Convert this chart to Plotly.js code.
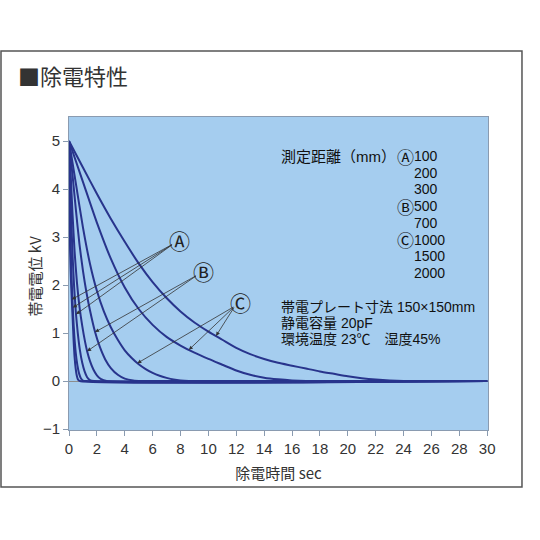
<!DOCTYPE html>
<html>
<head>
<meta charset="utf-8">
<script src="https://cdn.plot.ly/plotly-3.0.1.min.js"></script>
<style>
  html, body { margin: 0; padding: 0; background: #fff; }
  #chart { width: 540px; height: 540px; }
</style>
</head>
<body>
<div id="chart"></div>
<script>
// 測定距離 (mm)
const distances = ['100', '200', '300', '500', '700', '1000', '1500', '2000'];
const groupMarks = ['Ⓐ', '', '', 'Ⓑ', '', 'Ⓒ', '', ''];

// 除電時間 sec / 帯電電位 kV
const time100 = [0, 0.04, 0.08, 0.14, 0.2, 0.27, 0.33, 0.4, 0.48, 0.56, 0.65, 0.78, 30];
const volt100 = [4.2, 3.4, 2.7, 2.1, 1.7, 1.25, 0.85, 0.5, 0.26, 0.11, 0.03, 0, 0];

const time200 = [0, 0.05, 0.1, 0.16, 0.23, 0.3, 0.38, 0.48, 0.6, 0.72, 0.85, 1.0, 1.2, 30];
const volt200 = [4.7, 3.9, 3.1, 2.4, 1.8, 1.35, 0.95, 0.6, 0.33, 0.16, 0.06, 0.01, 0, 0];

const time300 = [0, 0.08, 0.16, 0.26, 0.37, 0.5, 0.63, 0.78, 0.95, 1.12, 1.3, 1.5, 1.8, 30];
const volt300 = [5, 4.2, 3.4, 2.6, 1.95, 1.4, 1.0, 0.65, 0.38, 0.2, 0.08, 0.02, 0, 0];

const time500 = [0, 0.12, 0.25, 0.4, 0.57, 0.75, 0.95, 1.15, 1.3, 1.5, 1.75, 2.0, 2.3, 2.7, 30];
const volt500 = [5, 4.3, 3.5, 2.7, 2.05, 1.55, 1.15, 0.82, 0.62, 0.42, 0.24, 0.12, 0.04, 0, 0];

const time700 = [0, 0.25, 0.5, 0.75, 1.0, 1.25, 1.5, 1.87, 2.2, 2.6, 3.0, 3.5, 4.0, 4.6, 5.2, 30];
const volt700 = [5, 4.3, 3.55, 2.85, 2.3, 1.85, 1.48, 1.02, 0.72, 0.45, 0.27, 0.13, 0.05, 0.01, 0, 0];

const time1000 = [0, 0.5, 1, 1.5, 2, 2.5, 3, 3.5, 4, 4.5, 5, 5.5, 6, 6.5, 7, 7.5, 8, 8.6, 30];
const volt1000 = [5, 4.1, 3.2, 2.45, 1.88, 1.45, 1.12, 0.86, 0.64, 0.48, 0.35, 0.25, 0.17, 0.11, 0.065, 0.03, 0.01, 0, 0];

const time1500 = [0, 1, 2, 3, 4, 5, 6, 7, 8, 9, 10, 11, 12, 13, 14, 15, 16, 17, 30];
const volt1500 = [5, 4.15, 3.3, 2.55, 1.95, 1.5, 1.17, 0.92, 0.74, 0.59, 0.46, 0.34, 0.22, 0.13, 0.07, 0.035, 0.012, 0, 0];

const time2000 = [0, 1, 2, 3, 4, 5, 6, 7, 8, 9, 10, 11, 12, 13, 14, 15, 16, 17, 18, 19, 20, 21, 22, 23, 24, 30];
const volt2000 = [5, 4.45, 3.9, 3.38, 2.9, 2.45, 2.06, 1.73, 1.45, 1.22, 1.03, 0.86, 0.69, 0.56, 0.46, 0.38, 0.32, 0.26, 0.2, 0.15, 0.1, 0.06, 0.03, 0.01, 0, 0];

const curveTimes = [time100, time200, time300, time500, time700, time1000, time1500, time2000];
const curveVolts = [volt100, volt200, volt300, volt500, volt700, volt1000, volt1500, volt2000];

const conditions = ['帯電プレート寸法 150×150mm', '静電容量 20pF', '環境温度 23℃　湿度45%'];

const lineColor = '#28348c';
const textColor = '#333333';
const numFont = 'Liberation Sans, Arial, Noto Sans CJK JP, sans-serif';
const jpFont = 'Noto Sans CJK JP, sans-serif';

const config = {
  responsive: false,
  displayModeBar: false,
  staticPlot: true,
};

// pixel -> data helpers (plot area: x 69..488, y 117..430)
const pxToX = (px) => (px - 69) / 13.94;
const pyToY = (py) => (381 - py) / 48;

function getTraces() {
  return curveTimes.map((times, idx) => ({
    x: times,
    y: curveVolts[idx],
    name: `${distances[idx]} mm`,
    mode: 'lines',
    line: { color: lineColor, width: 2, shape: 'spline', smoothing: 0.6 },
    hoverinfo: 'skip',
  }));
};

function arrow(tip, tail) {
  return {
    x: tip[0], y: tip[1], ax: tail[0], ay: tail[1],
    xref: 'x', yref: 'y', axref: 'x', ayref: 'y',
    text: '', showarrow: true,
    arrowhead: 2, arrowsize: 1, arrowwidth: 0.8, arrowcolor: '#333',
  };
};

function getAnnotations() {
  const notes = [];

  // y axis title, placed by hand to sit close to the tick labels
  notes.push({
    x: (21 - 69) / 419, y: (430 - 276) / 313, xref: 'paper', yref: 'paper',
    text: '帯電電位 kV', textangle: -90, showarrow: false,
    font: { family: jpFont, size: 15, color: textColor },
  });

  // circled group labels and their arrows
  const tailA = [7.5, 2.86];
  const tailB = [9.22, 2.21];
  const tailC = [11.9, 1.56];
  [[0.2, 1.7], [0.28, 1.53], [0.51, 1.39]].forEach((tip) => notes.push(arrow(tip, tailA)));
  [[1.87, 1.02], [1.3, 0.62]].forEach((tip) => notes.push(arrow(tip, tailB)));
  [[4.9, 0.37], [8.6, 0.65], [10.55, 0.94]].forEach((tip) => notes.push(arrow(tip, tailC)));
  [['Ⓐ', 180, 240], ['Ⓑ', 204, 271], ['Ⓒ', 241, 301.5]].forEach(([mark, px, py]) => {
    notes.push({
      x: pxToX(px), y: pyToY(py), xref: 'x', yref: 'y',
      text: mark, showarrow: false,
      font: { family: jpFont, size: 21, color: '#222' },
    });
  });

  // distance list
  notes.push({
    x: pxToX(397), y: pyToY(156), xref: 'x', yref: 'y',
    xanchor: 'right', text: '測定距離（mm）', showarrow: false, borderpad: 0,
    font: { family: numFont, size: 15, color: '#111' },
  });
  distances.forEach((dist, idx) => {
    const py = 156 + idx * 16.7;
    notes.push({
      x: pxToX(413), y: pyToY(py), xref: 'x', yref: 'y',
      xanchor: 'left', text: dist, showarrow: false, borderpad: 0,
      font: { family: numFont, size: 14, color: '#111' },
    });
    if (groupMarks[idx]) {
      notes.push({
        x: pxToX(415), y: pyToY(py), xref: 'x', yref: 'y',
        xanchor: 'right', text: groupMarks[idx], showarrow: false, borderpad: 0,
        font: { family: jpFont, size: 17, color: '#111' },
      });
    }
  });

  // test conditions
  conditions.forEach((line, idx) => {
    notes.push({
      x: pxToX(279), y: pyToY(306.7 + idx * 16.3), xref: 'x', yref: 'y',
      xanchor: 'left', text: line, showarrow: false,
      font: { family: numFont, size: 14, color: '#111' },
    });
  });

  return notes;
};

const layout = {
  width: 540,
  height: 540,
  margin: { l: 69, r: 52, t: 117, b: 110 },
  paper_bgcolor: '#ffffff',
  plot_bgcolor: '#a5cdef',
  showlegend: false,
  font: { family: numFont, size: 15, color: textColor },
  title: {
    text: '■除電特性',
    x: 18 / 540, xanchor: 'left',
    y: 1 - 77 / 540, yanchor: 'middle',
    font: { family: jpFont, size: 22, color: '#333' },
  },
  xaxis: {
    range: [0, 30.06],
    tickvals: [0, 2, 4, 6, 8, 10, 12, 14, 16, 18, 20, 22, 24, 26, 28, 30],
    ticks: 'outside', ticklen: 5, tickcolor: '#8a9bb0',
    showline: true, mirror: true, linecolor: '#8a9bb0', linewidth: 1,
    showgrid: false, zeroline: false,
    tickfont: { family: numFont, size: 15, color: textColor },
    title: {
      text: '除電時間 sec', standoff: 12,
      font: { family: jpFont, size: 15, color: textColor },
    },
  },
  yaxis: {
    range: [-1.02, 5.5],
    tickvals: [-1, 0, 1, 2, 3, 4, 5],
    ticks: 'outside', ticklen: 5, tickcolor: '#8a9bb0',
    showline: true, mirror: true, linecolor: '#8a9bb0', linewidth: 1,
    showgrid: false,
    zeroline: true, zerolinecolor: '#8d8d8d', zerolinewidth: 1,
    tickfont: { family: numFont, size: 15, color: textColor },
  },
  shapes: [{
    type: 'rect', xref: 'paper', yref: 'paper',
    x0: -0.1623, x1: 1.0811, y0: -0.1821, y1: 1.2109,
    line: { color: '#555555', width: 1.5 },
  }],
  annotations: getAnnotations(),
};

Plotly.newPlot('chart', getTraces(), layout, config);
</script>
</body>
</html>
